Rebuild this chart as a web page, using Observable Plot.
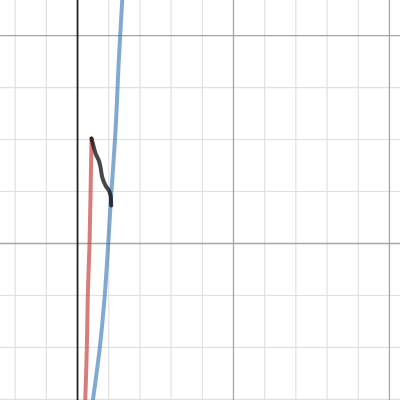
<!DOCTYPE html>
<html>
<head>
<meta charset="utf-8">
<script src="https://cdn.jsdelivr.net/npm/d3@7"></script>
<script src="https://cdn.jsdelivr.net/npm/@observablehq/plot@0.6"></script>
<style>
  body { margin: 0; background: #fff; }
  #chart svg { display: block; }
</style>
</head>
<body>
<div id="chart"></div>
<script>
// Grid positions
const minorX = [-0.4, -0.2, 0.2, 0.4, 0.6, 0.8, 1.2, 1.4, 1.6, 1.8];
const majorX = [1, 2];
const minorY = [18.5, 19, 19.5, 20.5, 21, 21.5];
const majorY = [20, 22];
const axisX = [0];

// Red curve
const redX = [0.0468, 0.0494, 0.0596, 0.0660, 0.0769, 0.0897];
const redY = [18.40, 18.49, 19.0, 19.51, 20.0, 21.010];

// Blue curve
const blueX = [0.0891, 0.0981, 0.1429, 0.1750, 0.1968, 0.2115, 0.2436, 0.2647, 0.2865, 0.2904];
const blueY = [18.40, 18.49, 19.0, 19.51, 20.0, 20.365, 21.087, 21.760, 22.337, 22.45];

// Black curve
const blackX = [0.0897, 0.1045, 0.1154, 0.1365, 0.1474, 0.1583, 0.1795, 0.2006, 0.2115, 0.2160];
const blackY = [21.010, 20.926, 20.865, 20.798, 20.734, 20.638, 20.558, 20.510, 20.462, 20.365];

const toPts = (xs, ys) => xs.map((x, i) => ({x, y: ys[i]}));

const chart = Plot.plot({
  width: 400,
  height: 400,
  margin: 0,
  style: {background: "#fff"},
  x: {domain: [-0.494, 2.071], axis: null},
  y: {domain: [18.490, 22.337], axis: null},
  marks: [
    Plot.ruleX(minorX, {stroke: "#e0e0e0", strokeWidth: 1.2}),
    Plot.ruleY(minorY, {stroke: "#e0e0e0", strokeWidth: 1.2}),
    Plot.ruleX(majorX, {stroke: "#a5a5a5", strokeWidth: 1.3}),
    Plot.ruleY(majorY, {stroke: "#a5a5a5", strokeWidth: 1.3}),
    Plot.ruleX(axisX, {stroke: "#222", strokeWidth: 1.8}),
    Plot.line(toPts(redX, redY), {x: "x", y: "y", stroke: "#c74440", strokeOpacity: 0.7, strokeWidth: 4, curve: "catmull-rom", clip: true}),
    Plot.line(toPts(blueX, blueY), {x: "x", y: "y", stroke: "#2d70b3", strokeOpacity: 0.6, strokeWidth: 4, curve: "catmull-rom", clip: true}),
    Plot.line(toPts(blackX, blackY), {x: "x", y: "y", stroke: "#000", strokeOpacity: 0.72, strokeWidth: 4, curve: "catmull-rom", clip: true})
  ]
});
document.getElementById("chart").append(chart);
</script>
</body>
</html>
